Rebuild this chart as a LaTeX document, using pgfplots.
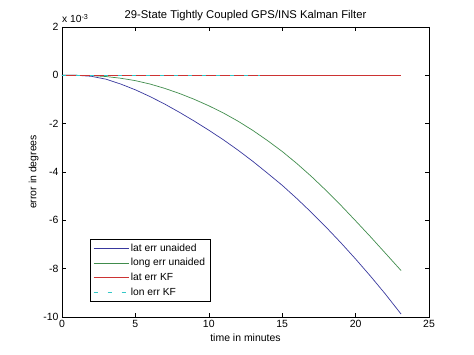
\documentclass[border=0pt]{standalone}
\usepackage{pgfplots}
\pgfplotsset{compat=1.18}
\usepackage{fontspec}
\setmainfont{Liberation Sans}
\definecolor{mblue}{rgb}{0.22,0.22,0.62}
\definecolor{mgreen}{rgb}{0.25,0.55,0.30}
\definecolor{mred}{rgb}{0.80,0.20,0.20}
\definecolor{mcyan}{rgb}{0.20,0.78,0.78}
\begin{document}
\begin{tikzpicture}
\begin{axis}[
  name=ax,
  scale only axis,
  width=367bp, height=290bp,
  xmin=0, xmax=25, ymin=-10, ymax=2,
  xtick={0,5,...,25}, ytick={-10,-8,...,2},
  tick align=inside,
  major tick length=4bp,
  tick style={black, line width=0.5pt},
  axis line style={line width=0.5pt},
  /pgf/number format/assume math mode=true,
  tick label style={font=\fontsize{10.5}{12}\selectfont},
  xlabel={time in minutes},
  ylabel={error in degrees},
  label style={font=\fontsize{10.5}{12}\selectfont},
  xlabel style={yshift=1bp},
  ylabel style={yshift=-2bp},
  title={29-State Tightly Coupled GPS/INS Kalman Filter},
  title style={font=\fontsize{11.3}{13}\selectfont, yshift=-3bp},
  legend cell align=left,
  legend style={at={(0.076,0.053)}, anchor=south west, draw=black, line width=0.5pt,
    font=\fontsize{10.3}{12}\selectfont, row sep=1.8bp, inner xsep=3bp, inner ysep=2.5bp},
  legend image code/.code={\draw[#1] (0bp,0bp) -- (35bp,0bp);},
]
\addplot[draw=mblue, line width=0.7pt] coordinates {
(0,0) (1,0) (2,-0.04) (3,-0.16) (4,-0.36) (5,-0.60) (6,-0.88) (7,-1.19)
(8,-1.53) (9,-1.89) (10,-2.27) (11,-2.67) (12,-3.10) (13,-3.56) (14,-4.05) (15,-4.55)
(16,-5.10) (17,-5.68) (18,-6.29) (19,-6.93) (20,-7.60) (21,-8.30) (22,-9.03) (23.1,-9.88)};
\addlegendentry{lat err unaided}
\addplot[draw=mgreen, line width=0.7pt] coordinates {
(0,0) (1,0) (2,-0.01) (3,-0.05) (4,-0.12) (5,-0.22) (6,-0.36) (7,-0.54) (8,-0.75)
(9,-0.99) (10,-1.26) (11,-1.56) (12,-1.90) (13,-2.28) (14,-2.70) (15,-3.15) (16,-3.65)
(17,-4.19) (18,-4.77) (19,-5.38) (20,-6.02) (21,-6.67) (22,-7.34) (23.1,-8.08)};
\addlegendentry{long err unaided}
\addplot[draw=mred, line width=0.8pt] coordinates {(0,0) (23.1,0)};
\addlegendentry{lat err KF}
\addplot[draw=mcyan, line width=0.8pt, dash pattern=on 4bp off 10bp] coordinates {(0,0) (13.5,0)};
\addlegendentry{lon err KF}
\end{axis}
\node[anchor=south west, font=\fontsize{10.3}{12}\selectfont, inner sep=0pt] at ([shift={(0bp,4bp)}]ax.north west) {x 10\textsuperscript{-3}};
\path ([shift={(-62bp,-38bp)}]ax.south west) rectangle ([shift={(45bp,27bp)}]ax.north east);
\end{tikzpicture}
\end{document}
